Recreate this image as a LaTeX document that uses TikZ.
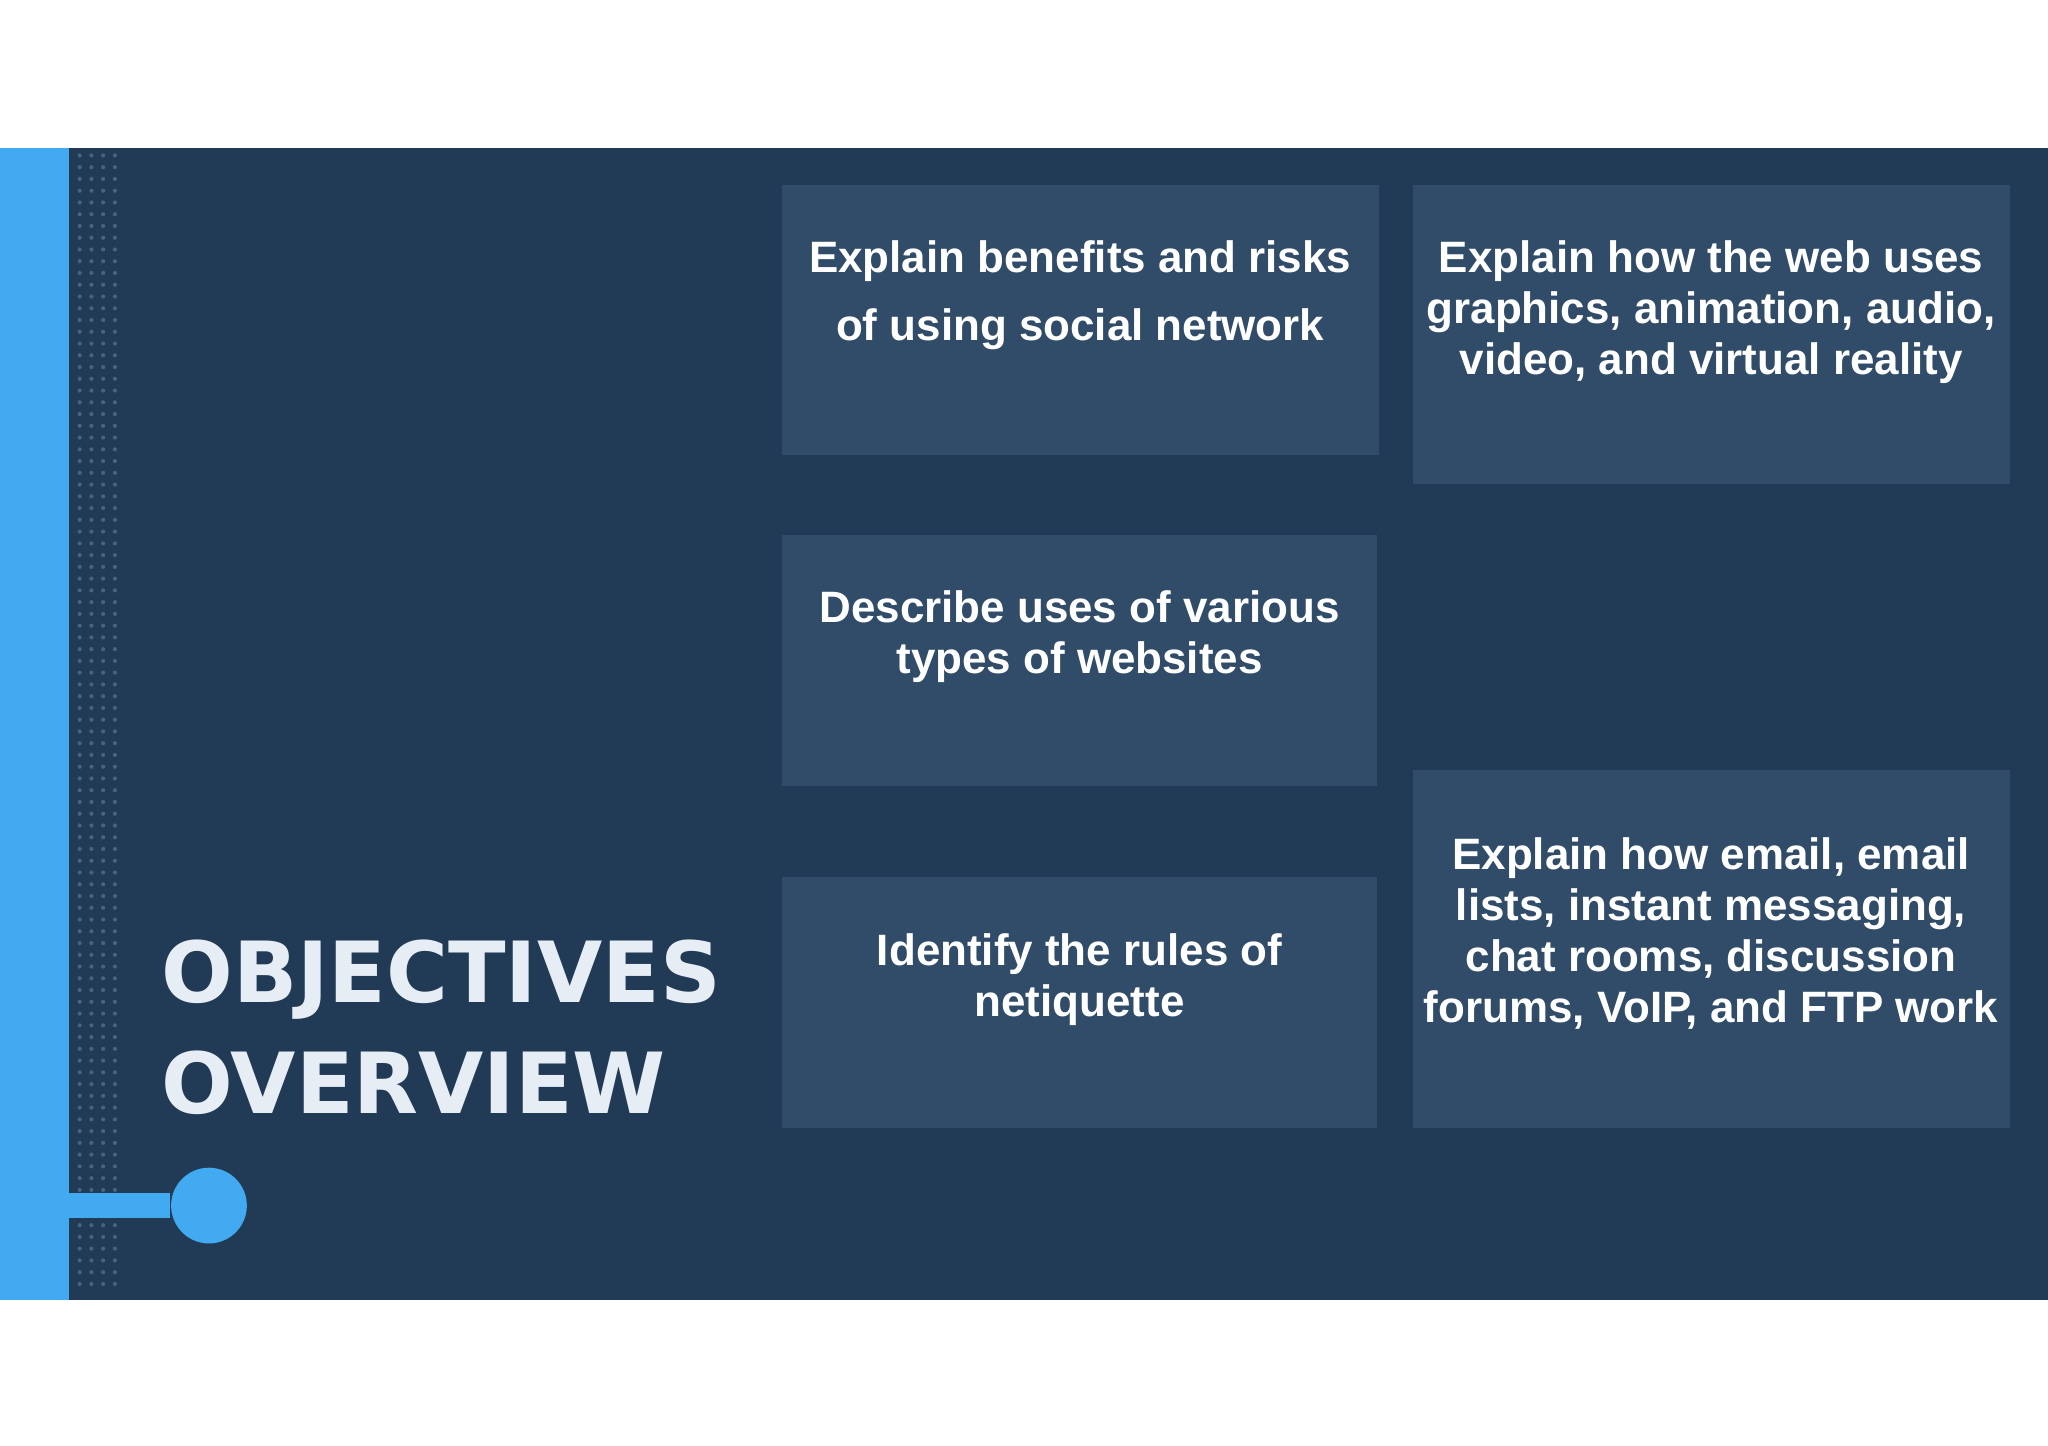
\documentclass[tikz,border=0pt]{standalone}
\usepackage{fontspec}
\setmainfont{Liberation Sans}
\newfontfamily\titlefont{DejaVu Sans}
\usetikzlibrary{positioning}
\definecolor{slidebg}{HTML}{213A55}
\definecolor{boxbg}{HTML}{304C68}
\definecolor{accent}{HTML}{42AAF0}
\definecolor{dotcol}{HTML}{4A627C}
\definecolor{titlecol}{HTML}{E6EDF5}
\begin{document}
\begin{tikzpicture}[x=0.01306cm, y=-0.01306cm,
        box/.style={fill=boxbg, draw=none, anchor=north west, inner sep=0pt},
        objtext/.style={align=center, text=white, font=\bfseries\fontsize{12.5}{14.5}\selectfont, anchor=north, inner sep=0pt},
        title/.style={anchor=west, text=titlecol, font=\titlefont\bfseries\fontsize{24}{28}\selectfont, inner sep=0pt}
        ]
        \useasboundingbox (0,0) rectangle (1568,1107);
        \fill[white] (0,0) rectangle (1568,1107);

        % Slide background and side bar
        \fill[slidebg] (0,113) rectangle (1568,995);
        \fill[accent] (0,113) rectangle (53,995);
        \foreach \x in {61,70,79,88}
            \foreach \y in {119,128,...,990}
                \fill[dotcol] (\x,\y) circle (1.6);
        \node[circle, fill=accent, minimum size=58*0.01306cm, inner sep=0pt] (dot) at (160,923) {};
        \coordinate (barend) at (53,923);
        \draw[accent, line width=7pt] (barend) -- (dot);

        % Title
        \node[title] (obj) at (123,750) {OBJECTIVES};
        \node[title] (ovr) at (123,829) {OVERVIEW};

        % Boxes
        \node[box, minimum width=457*0.01306cm, minimum height=207*0.01306cm] (B1) at (598,141) {};
        \node[box, minimum width=457*0.01306cm, minimum height=229*0.01306cm] (B2) at (1081,141) {};
        \node[box, minimum width=456*0.01306cm, minimum height=192*0.01306cm] (B3) at (598,409) {};
        \node[box, minimum width=456*0.01306cm, minimum height=192*0.01306cm] (B4) at (598,671) {};
        \node[box, minimum width=457*0.01306cm, minimum height=274*0.01306cm] (B5) at (1081,589) {};

        \node[objtext, below=43*0.01306cm of B1.north] (T1) {Explain benefits and risks\\[4.8pt] of using social network};
        \node[objtext, below=43*0.01306cm of B2.north] (T2) {Explain how the web uses\\ graphics, animation, audio,\\ video, and virtual reality};
        \node[objtext, below=43*0.01306cm of B3.north] (T3) {Describe uses of various\\ types of websites};
        \node[objtext, below=43*0.01306cm of B4.north] (T4) {Identify the rules of\\ netiquette};
        \node[objtext, below=52*0.01306cm of B5.north] (T5) {Explain how email, email\\ lists, instant messaging,\\ chat rooms, discussion\\ forums, VoIP, and FTP work};
    \end{tikzpicture}
\end{document}
